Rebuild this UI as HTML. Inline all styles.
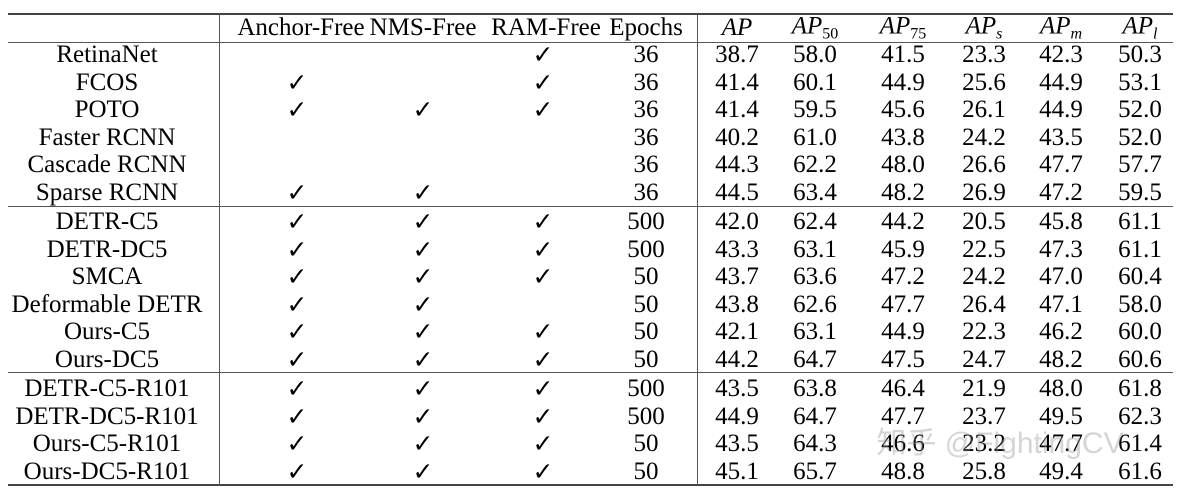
<!DOCTYPE html><html><head><style>
body{margin:0;width:1185px;height:492px;background:#fff;position:relative;overflow:hidden;font-family:"Liberation Serif",serif;font-size:25px;color:#000}
.t{position:absolute;transform:translate(-50%,-50%);white-space:nowrap}
.h{position:absolute;left:8px;width:1165px;height:2px;background:#444}
.h1{height:1px;background:#555}
.v{position:absolute;top:14px;height:472px;width:1px;background:#555}
i{font-style:italic}
sub{font-size:16px;vertical-align:-5px}
</style></head><body>
<div class="h" style="top:13px"></div>
<div class="h h1" style="top:42px"></div>
<div class="h h1" style="top:206px"></div>
<div class="h h1" style="top:372px"></div>
<div class="h" style="top:484px"></div>
<div class="v" style="left:219px"></div>
<div class="v" style="left:697px"></div>
<div id="c"></div>
<script>
const cx=[107,301,423,546,646,737,815,903,984,1061,1140];
let h='';
const hd=['','Anchor-Free','NMS-Free','RAM-Free','Epochs','<i>AP</i>','<i>AP</i><sub>50</sub>','<i>AP</i><sub>75</sub>','<i>AP<sub>s</sub></i>','<i>AP<sub>m</sub></i>','<i>AP<sub>l</sub></i>'];
hd.forEach((s,i)=>h+=`<div class="t" style="left:${cx[i]}px;top:28px">${s}</div>`);
const cc=[107,297,423,543,646,737,815,903,984,1061,1140];
const R=[
['RetinaNet',0,0,1,36,'38.7','58.0','41.5','23.3','42.3','50.3'],
['FCOS',1,0,1,36,'41.4','60.1','44.9','25.6','44.9','53.1'],
['POTO',1,1,1,36,'41.4','59.5','45.6','26.1','44.9','52.0'],
['Faster RCNN',0,0,0,36,'40.2','61.0','43.8','24.2','43.5','52.0'],
['Cascade RCNN',0,0,0,36,'44.3','62.2','48.0','26.6','47.7','57.7'],
['Sparse RCNN',1,1,0,36,'44.5','63.4','48.2','26.9','47.2','59.5'],
['DETR-C5',1,1,1,500,'42.0','62.4','44.2','20.5','45.8','61.1'],
['DETR-DC5',1,1,1,500,'43.3','63.1','45.9','22.5','47.3','61.1'],
['SMCA',1,1,1,50,'43.7','63.6','47.2','24.2','47.0','60.4'],
['Deformable DETR',1,1,0,50,'43.8','62.6','47.7','26.4','47.1','58.0'],
['Ours-C5',1,1,1,50,'42.1','63.1','44.9','22.3','46.2','60.0'],
['Ours-DC5',1,1,1,50,'44.2','64.7','47.5','24.7','48.2','60.6'],
['DETR-C5-R101',1,1,1,500,'43.5','63.8','46.4','21.9','48.0','61.8'],
['DETR-DC5-R101',1,1,1,500,'44.9','64.7','47.7','23.7','49.5','62.3'],
['Ours-C5-R101',1,1,1,50,'43.5','64.3','46.6','23.2','47.7','61.4'],
['Ours-DC5-R101',1,1,1,50,'45.1','65.7','48.8','25.8','49.4','61.6']];
R.forEach((r,k)=>{const y=55+k*27.5+(k>=6?2:0)+(k>=12?2:0);
r.forEach((s,i)=>{if(i>=1&&i<=3)s=s?'✓':'';h+=`<div class="t" style="left:${cc[i]}px;top:${y}px">${s}</div>`;});});
document.getElementById('c').innerHTML=h;
</script>
<div class="t" style="left:1000px;top:440px;color:rgba(150,150,150,0.4);font-family:'Liberation Sans','Noto Sans CJK SC',sans-serif;font-size:30px">知乎 @FightingCV</div>
</body></html>
